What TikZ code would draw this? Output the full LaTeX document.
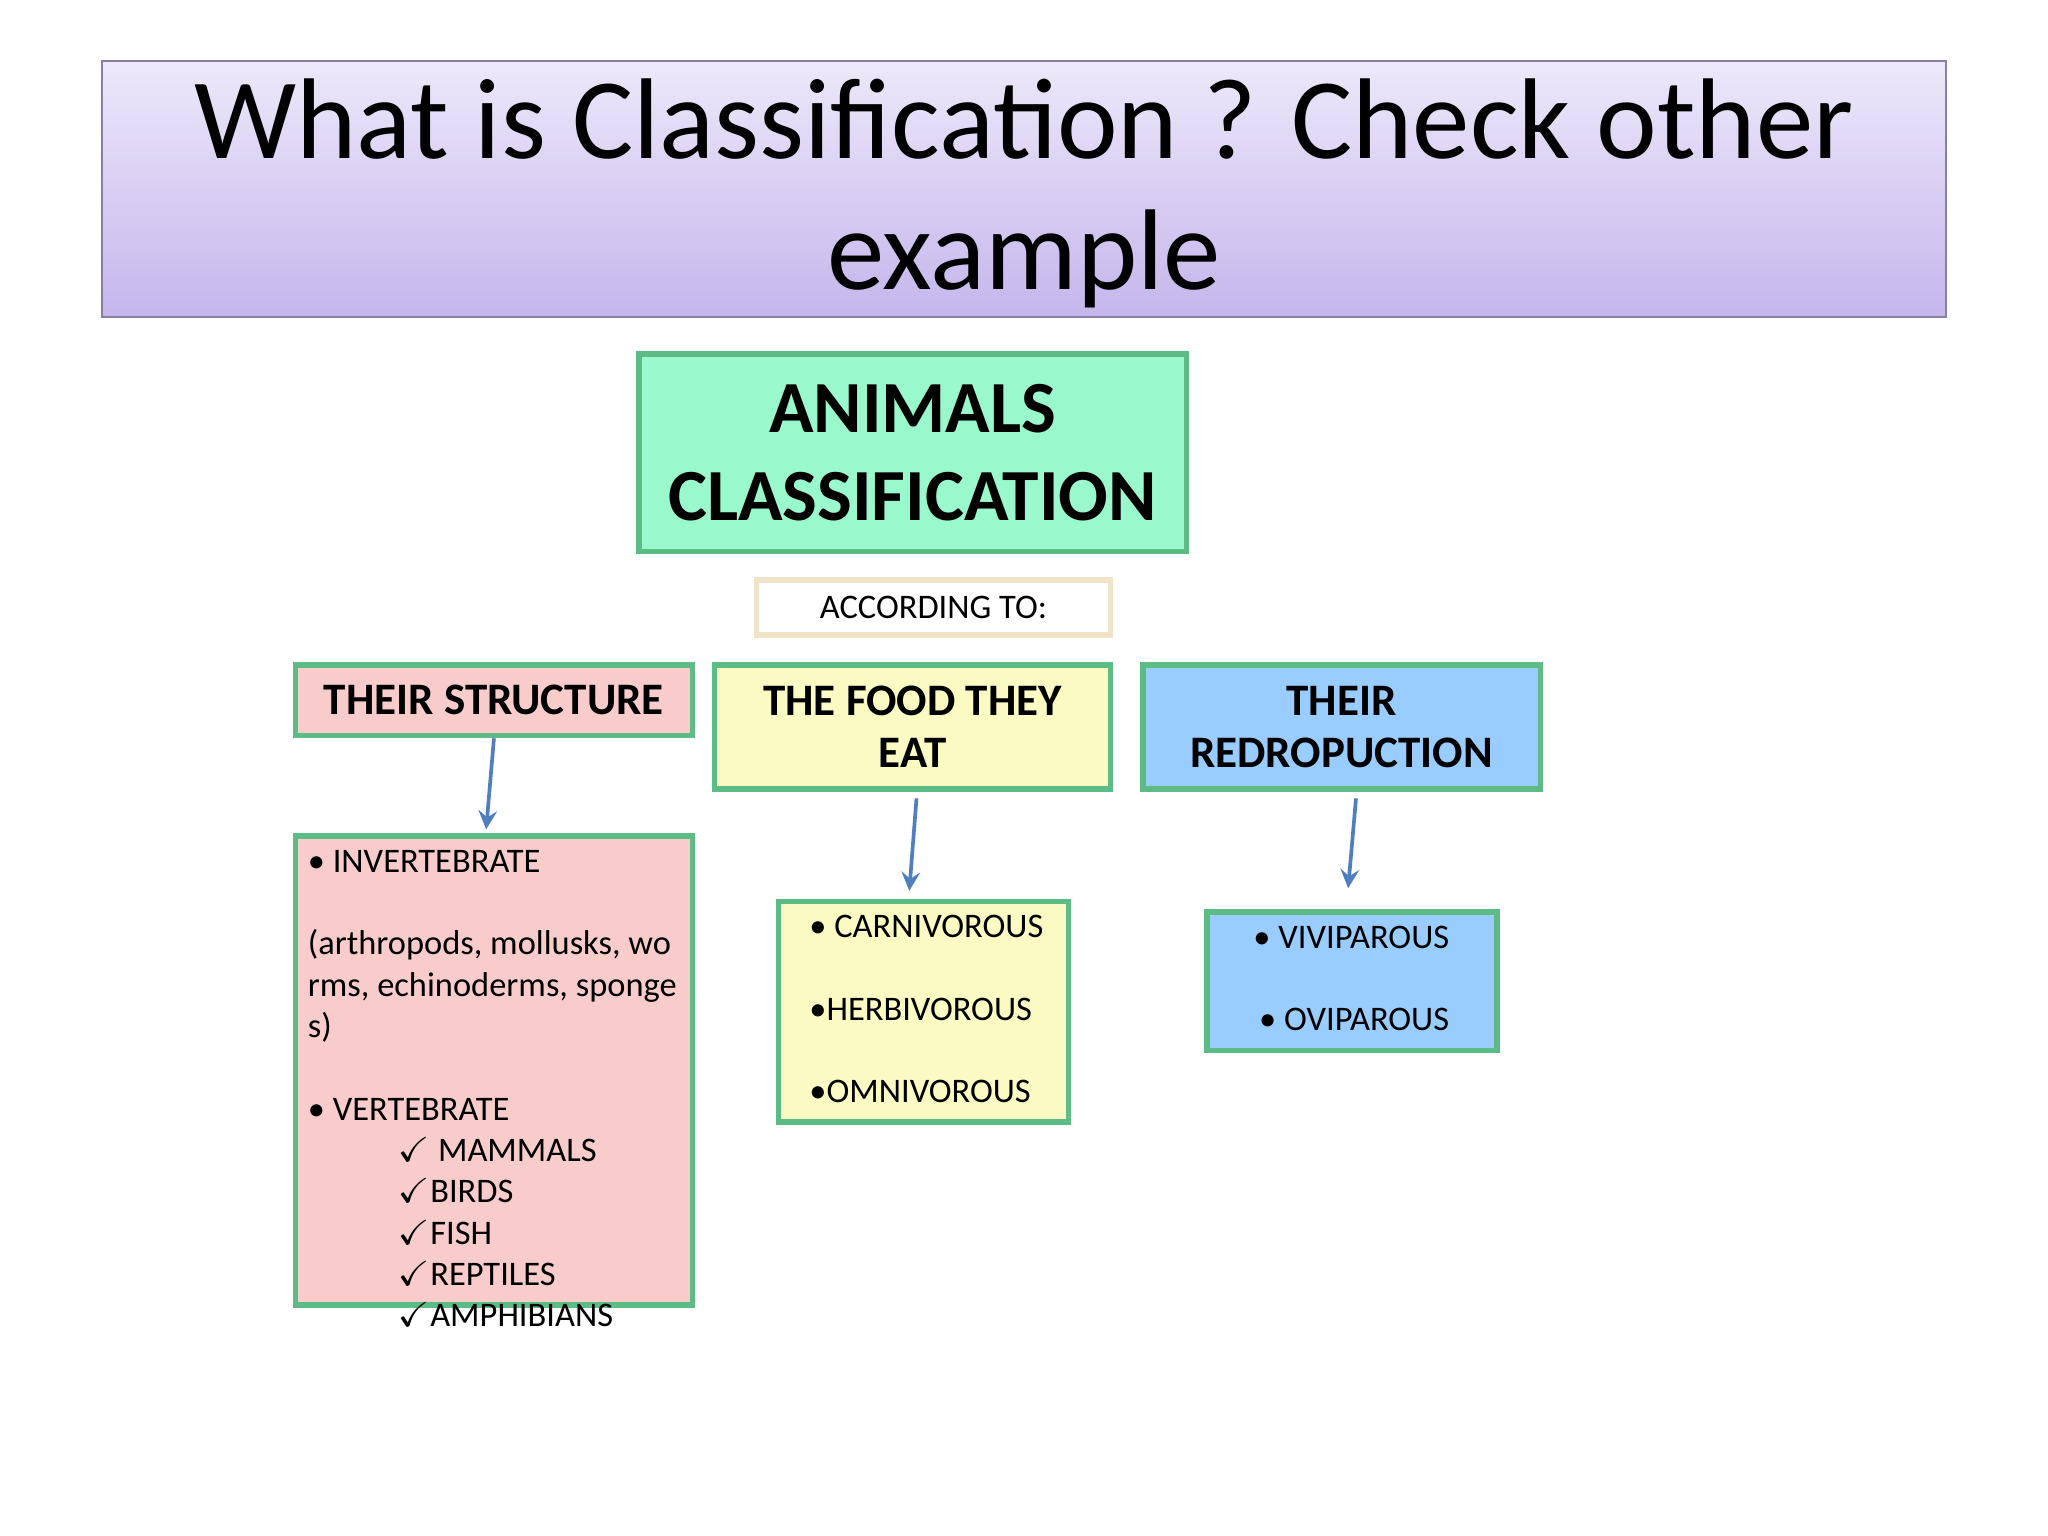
\documentclass[tikz,border=0pt]{standalone}
\usepackage{fontspec}
\setmainfont{Carlito}
\usepackage{amssymb}
\usetikzlibrary{positioning}
\definecolor{lav}{HTML}{C4B6EC}
\definecolor{lavtop}{HTML}{EDE8FA}
\definecolor{mint}{HTML}{99F8CC}
\definecolor{rose}{HTML}{F9CCCC}
\definecolor{lemon}{HTML}{FAFAC2}
\definecolor{sky}{HTML}{99CCFF}
\definecolor{edge}{HTML}{5DBB85}
\definecolor{arr}{HTML}{4F7FBF}
\tikzset{
  box/.style={draw=edge, line width=1.2pt, anchor=north west, inner sep=0pt},
  head/.style={box, align=center, font=\bfseries\fontsize{9.8}{11.4}\selectfont},
  link/.style={->, draw=arr, thick, >=stealth},
  lst/.style={anchor=north west, align=left, inner sep=0pt, font=\fontsize{7.5}{9}\selectfont}
}
\begin{document}
\begin{tikzpicture}[x=0.01cm, y=-0.01cm]
  \useasboundingbox (0,0) rectangle (1568,1176);
  \fill[white] (0,0) rectangle (1568,1176);

  \shade[top color=lavtop, bottom color=lav, draw=lav!70!black] (78,47) rectangle (1490,243);
  \node[align=center, font=\fontsize{25}{28.4}\selectfont] (title) at (784,148)
    {What is Classification ? Check other\\example};

  \node[box, fill=mint, minimum width=4.19cm, minimum height=1.51cm,
        font=\bfseries\fontsize{16}{19.3}\selectfont, align=center] (animals) at (487,269)
    {ANIMALS\\CLASSIFICATION};
  \node[box, draw=lemon!60!brown!50, fill=white, minimum width=2.71cm, minimum height=0.42cm,
        font=\fontsize{7.5}{9}\selectfont] (acc) at (577,442) {ACCORDING TO:};

  \node[head, fill=rose, minimum width=3.04cm, minimum height=0.54cm] (struct) at (224,507) {THEIR STRUCTURE};
  \node[head, fill=lemon, minimum width=3.03cm, minimum height=0.95cm] (food) at (545,507) {THE FOOD THEY\\EAT};
  \node[head, fill=sky, minimum width=3.04cm, minimum height=0.95cm] (repro) at (873,507) {THEIR\\REDROPUCTION};

  \node[box, fill=rose, minimum width=3.04cm, minimum height=3.59cm] (slist) at (224,638) {};
  \node[box, fill=lemon, minimum width=2.22cm, minimum height=1.69cm] (flist) at (594,688) {};
  \node[box, fill=sky, minimum width=2.22cm, minimum height=1.06cm] (rlist) at (922,696) {};

  \node[lst] (stext) at (235,650) {%
    \textbullet\ INVERTEBRATE\\[9pt]
    (arthropods, mollusks, wo\\rms, echinoderms, sponge\\s)\\[9pt]
    \textbullet\ VERTEBRATE\\
    \hspace{2.6em}$\checkmark$ MAMMALS\\
    \hspace{2.6em}$\checkmark$BIRDS\\
    \hspace{2.6em}$\checkmark$FISH\\
    \hspace{2.6em}$\checkmark$REPTILES\\
    \hspace{2.6em}$\checkmark$AMPHIBIANS};
  \node[lst] (ftext) at (619,700) {%
    \textbullet\ CARNIVOROUS\\[9pt]
    \textbullet HERBIVOROUS\\[9pt]
    \textbullet OMNIVOROUS};
  \node[lst] (rtext) at (959,708) {%
    \textbullet\ VIVIPAROUS\\[9pt]
    \,\textbullet\ OVIPAROUS};

  \draw[link] (struct.south) -- ([shift={(-6,-3)}]slist.north);
  \draw[link] ([shift={(3,5)}]food.south) -- ([shift={(-11,-6)}]flist.north);
  \draw[link] ([shift={(11,5)}]repro.south) -- ([shift={(-3,-16)}]rlist.north);
\end{tikzpicture}
\end{document}
